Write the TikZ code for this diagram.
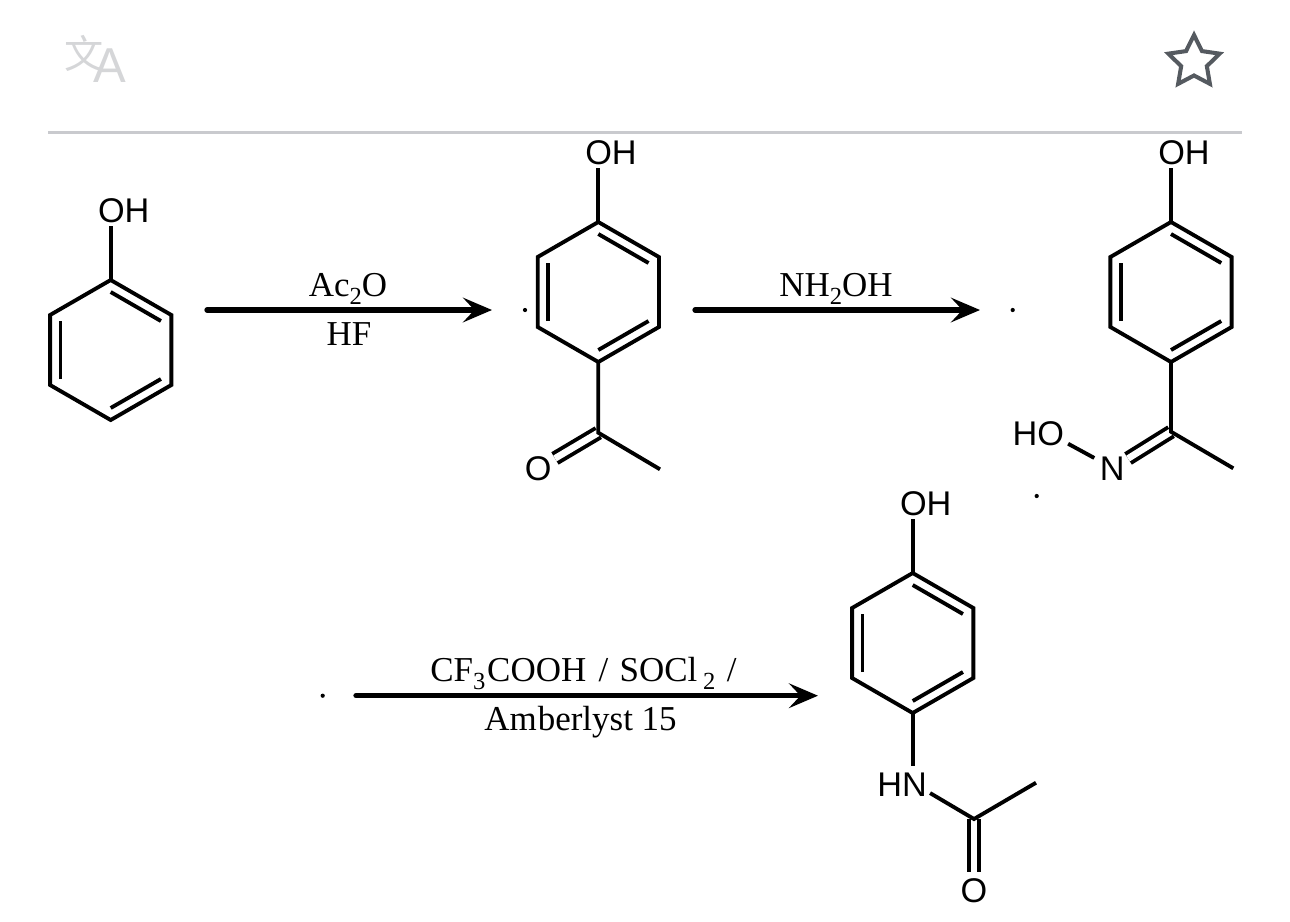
\documentclass[tikz,border=0pt]{standalone}
\usepackage{fontspec}
\usepackage{tikz}
\setmainfont{Liberation Serif}
\newfontfamily\atomfont{Liberation Sans}
\newfontfamily\cjkfont{Noto Sans CJK SC}
\usetikzlibrary{arrows.meta}
\usetikzlibrary{shapes.geometric}
\definecolor{icongray}{HTML}{D5D6D8}
\definecolor{rulegray}{HTML}{C9CACE}
\definecolor{stargray}{HTML}{555A60}
\tikzset{bond/.style = {line width = 2.2pt, line join = miter}}
\tikzset{dbl/.style = {bond, double, double distance = 3.8pt}}
\tikzset{rxn/.style = {line width = 3pt, line cap = round,
                       -{Stealth[length = 16.5pt, width = 14pt, inset = 6.5pt]}}}
\tikzset{atom/.style = {font = \atomfont\fontsize{19.5pt}{20pt}\selectfont,
                        inner sep = 1.7pt, text depth = 0pt}}
\tikzset{reagent/.style = {font = \fontsize{19.9pt}{22pt}\selectfont,
                           anchor = base, inner sep = 0}}
\tikzset{circ/.style = {fill, circle, inner sep = 0, minimum size = 2.4pt}}
\newcommand{\subs}[1]{\raisebox{-0.22em}{\fontsize{14pt}{14pt}\selectfont #1}}
\newcommand{\benzring}[3]{
    \coordinate (#1) at (#2, #3);
    \foreach \k/\ang in {a/-90, b/-30, c/30, d/90, e/150, f/210} {
        \coordinate (#1\k) at ([shift={(\ang:70)}] #1);
        \coordinate (#1\k i) at ([shift={(\ang:58)}] #1);
    }
    \draw [bond] (#1a) -- (#1b) -- (#1c) -- (#1d) -- (#1e) -- (#1f) -- cycle;
    \draw [bond] (#1ai) -- (#1bi);
    \draw [bond] (#1ci) -- (#1di);
    \draw [bond] (#1ei) -- (#1fi);
}

\begin{document}
\begin{tikzpicture}[x=0.02cm, y=-0.02cm]
    \useasboundingbox (0, 0) rectangle (1290, 921);

    % header
    \node [inner sep = 0, text = icongray, font = \cjkfont\fontsize{22.3pt}{23pt}\selectfont] (wen) at (84.5, 53) {文};
    \node [inner sep = 0, text = icongray, text depth = 0pt, font = \atomfont\fontsize{27.9pt}{28pt}\selectfont] (latin) at (109.5, 65.5) {A};
    \node [star, star points = 5, star point ratio = 2.0, draw = stargray, line width = 2.3pt,
           line join = miter, miter limit = 10,
           inner sep = 0, outer sep = 0, minimum size = 1.08cm] (fav) at (1194, 62) {};
    \coordinate (ruleL) at (48, 132);
    \coordinate (ruleR) at (1242, 132);
    \draw [rulegray, line width = 1.7pt] (ruleL) -- (ruleR);

    % phenol
    \benzring{rA}{110.7}{350}
    \node [atom] (ohA) at (123.7, 211) {OH};
    \draw [bond] (rAa) -- (ohA.south -| rAa);

    % first arrow
    \coordinate (arrAs) at (207, 310);
    \coordinate (arrAe) at (492, 310);
    \draw [rxn] (arrAs) -- (arrAe);
    \node [reagent] (acO) at (348, 296.7) {Ac\subs{2}O};
    \node [reagent] (hf) at (349, 345) {HF};

    % ketone
    \benzring{rB}{598.3}{292}
    \node [atom] (ohB) at (611, 153) {OH};
    \draw [bond] (rBa) -- (ohB.south -| rBa);
    \coordinate (cB) at (598.3, 432.7);
    \coordinate (meB) at (660, 469.3);
    \node [atom] (oB) at (538.3, 468.3) {O};
    \draw [dbl] (cB) -- (oB);
    \draw [bond] (rBd) -- (cB) -- (meB);
    \node [circ] (dotB) at (525, 310) {};

    % second arrow
    \coordinate (arrBs) at (695, 310);
    \coordinate (arrBe) at (980, 310);
    \draw [rxn] (arrBs) -- (arrBe);
    \node [reagent] (nh) at (836, 296.7) {NH\subs{2}OH};
    \node [circ] (dotC) at (1012.7, 310) {};

    % oxime
    \benzring{rC}{1171}{292}
    \node [atom] (ohC) at (1184, 153) {OH};
    \draw [bond] (rCa) -- (ohC.south -| rCa);
    \coordinate (cC) at (1171, 431.7);
    \coordinate (meC) at (1233.3, 468.3);
    \node [atom] (nC) at (1112.3, 468.3) {N};
    \node [atom] (hoC) at (1038.3, 433.3) {HO};
    \draw [dbl] (cC) -- (nC);
    \draw [bond] (rCd) -- (cC) -- (meC);
    \draw [bond, shorten <= 0.5pt, shorten >= 1.5pt] (hoC.-19) -- (nC.150);
    \node [circ] (dotD) at (1036.7, 496) {};

    % third arrow
    \node [circ] (dotE) at (322.7, 695.7) {};
    \coordinate (arrCs) at (356, 695.7);
    \coordinate (arrCe) at (818, 695.7);
    \draw [rxn] (arrCs) -- (arrCe);
    \node [reagent] (tfa) at (583.5, 681.7) {CF\subs{3}\kern1pt COOH\kern2pt{} /\kern1.5pt{} SOCl\,\subs{2}\kern1.5pt{} /};
    \node [reagent] (amb) at (580.5, 730) {Am\kern.6pt berlyst 15};

    % paracetamol
    \benzring{rD}{912.7}{643}
    \node [atom] (ohD) at (925.7, 504) {OH};
    \draw [bond] (rDa) -- (ohD.south -| rDa);
    \node [atom] (hnD) at (902, 785) {HN};
    \coordinate (cD) at (974, 819);
    \coordinate (meD) at (1036, 782.7);
    \node [atom] (oD) at (974, 890.7) {O};
    \draw [bond, shorten >= 2.5pt] (rDd) -- (hnD.north -| rDd);
    \draw [dbl, shorten >= 2pt] (cD) -- (oD);
    \draw [bond] (hnD.-16) -- (cD) -- (meD);
\end{tikzpicture}
\end{document}
